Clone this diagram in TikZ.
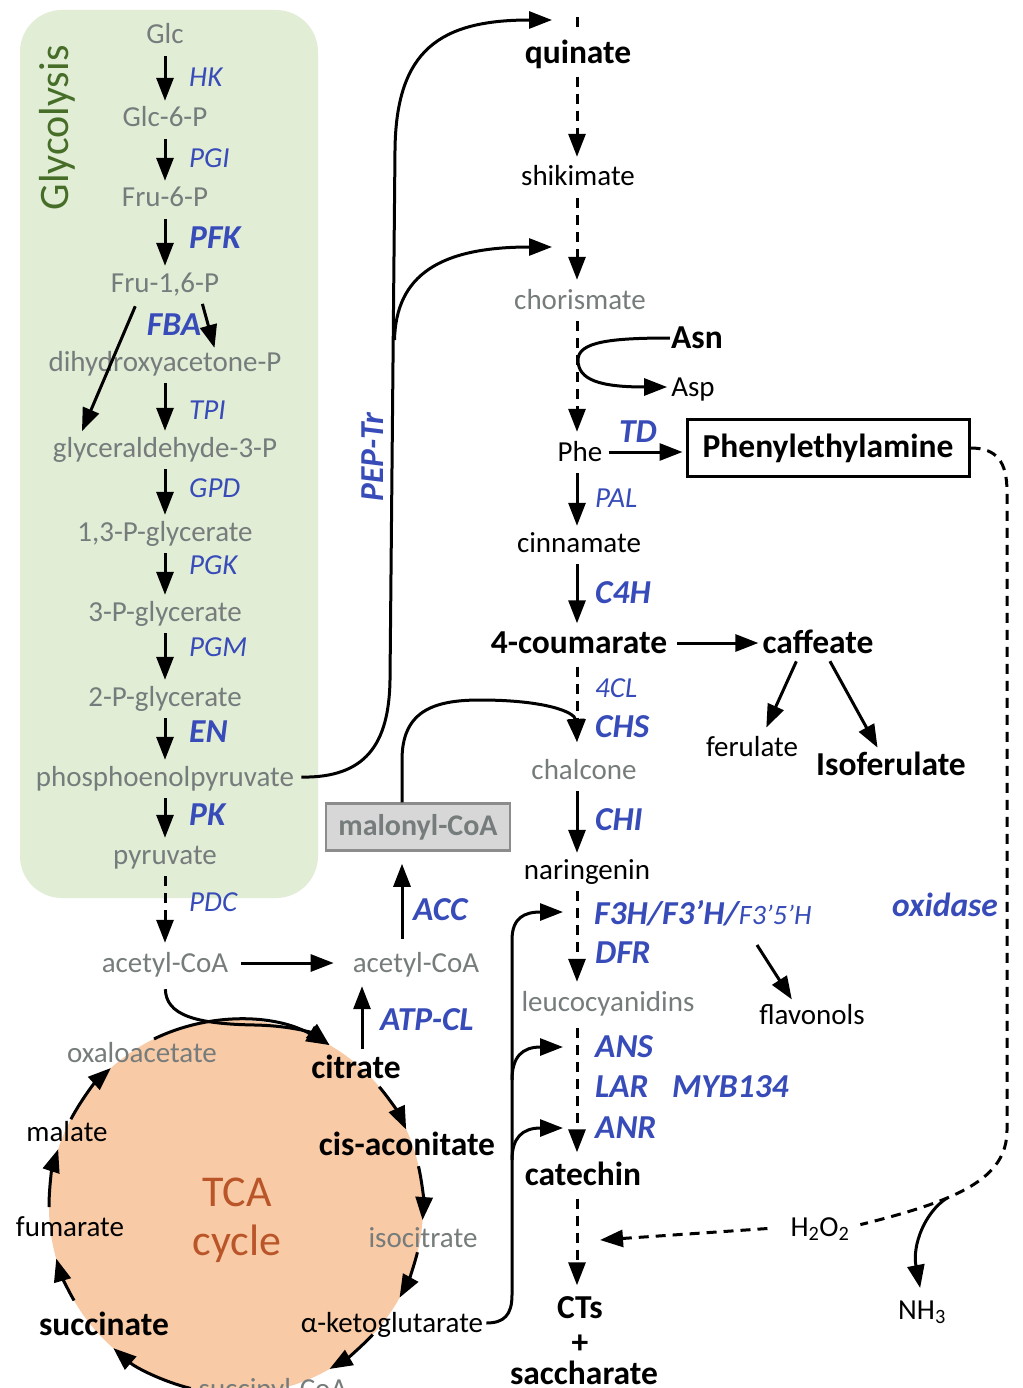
\documentclass[tikz,border=0pt]{standalone}
\usepackage{fontspec}
\setmainfont{Carlito}
\usetikzlibrary{arrows.meta,calc}
\definecolor{txtgray}{RGB}{118,124,124}
\definecolor{enzblue}{RGB}{55,75,185}
\definecolor{glyfill}{RGB}{226,237,214}
\definecolor{glytext}{RGB}{70,110,40}
\definecolor{tcafill}{RGB}{248,202,165}
\definecolor{tcatext}{RGB}{185,85,40}
\definecolor{malfill}{RGB}{215,215,215}
\definecolor{maldraw}{RGB}{140,140,140}
\tikzset{
  every node/.style={inner sep=1pt},
  nfont/.style={font=\fontsize{29}{34}\selectfont, text height=20pt, text depth=2pt},
  bfont/.style={font=\fontsize{33.5}{38}\selectfont\bfseries, text height=24pt, text depth=3pt},
  met/.style={nfont, text=black},
  metg/.style={nfont, text=txtgray},
  metb/.style={bfont, text=black},
  enz/.style={font=\fontsize{29}{34}\selectfont\itshape, text=enzblue, anchor=west},
  enzb/.style={font=\fontsize{33.5}{38}\selectfont\bfseries\itshape, text=enzblue, anchor=west},
  tipped/.style={-{Triangle[length=23pt,width=17pt]}},
  ln/.style={line width=3pt, draw=black},
  arr/.style={ln, tipped, shorten <=9pt, shorten >=5pt},
  darr/.style={arr, dash pattern=on 10pt off 7pt, shorten >=8pt},
  dln/.style={ln, dash pattern=on 10pt off 7pt},
}
\begin{document}
\begin{tikzpicture}[x=1pt,y=-1pt]
\clip (0,0) rectangle (1022,1388);
\fill[white] (0,0) rectangle (1022,1388);

% ---------- backgrounds ----------
\node[fill=glyfill, rounded corners=42pt, minimum width=298pt, minimum height=888pt, inner sep=0pt] (glybox) at (169,454) {};
\node[font=\fontsize{42}{48}\selectfont, text=glytext, rotate=90] (glylab) at (57,128) {Glycolysis};
\node[circle, fill=tcafill, minimum size=374pt, inner sep=0pt] (tca) at (236,1207) {};
\node[font=\fontsize{44}{49}\selectfont, text=tcatext, align=center] (tcalab) at (237,1220) {TCA\\cycle};

% ---------- glycolysis ----------
\node[metg] (glc)  at (165,35)  {Glc};
\node[metg] (g6p)  at (165,118) {Glc-6-P};
\node[metg] (f6p)  at (165,198) {Fru-6-P};
\node[metg] (fbp)  at (165,283) {Fru-1,6-P};
\node[metg] (dhap) at (165,362) {dihydroxyacetone-P};
\node[metg] (gap)  at (165,448) {glyceraldehyde-3-P};
\node[metg] (bpg)  at (165,532) {1,3-P-glycerate};
\node[metg] (pgt)  at (165,612) {3-P-glycerate};
\node[metg] (pgd)  at (165,697) {2-P-glycerate};
\node[metg] (pep)  at (165,777) {phosphoenolpyruvate};
\node[metg] (pyr)  at (165,855) {pyruvate};
\node[metg] (acoaL) at (165,963) {acetyl-CoA};

\node[enz]  (eHK)  at (188,77)  {HK};
\node[enz]  (ePGI) at (188,158) {PGI};
\node[enzb] (ePFK) at (188,238) {PFK};
\node[enzb, anchor=center] (eFBA) at (174,325) {FBA};
\node[enz]  (eTPI) at (188,410) {TPI};
\node[enz]  (eGPD) at (188,488) {GPD};
\node[enz]  (ePGK) at (188,565) {PGK};
\node[enz]  (ePGM) at (188,647) {PGM};
\node[enzb] (eEN)  at (188,732) {EN};
\node[enzb] (ePK)  at (188,815) {PK};
\node[enz]  (ePDC) at (188,902) {PDC};

% ---------- main column ----------
\coordinate (colx) at (577,0);
\coordinate (qtop) at (577,17);
\coordinate (qtip) at (552,20);
\coordinate (chtip) at (552,247);
\coordinate (pepbr) at (394.5,340);
\coordinate (chstip) at (577,742);
\coordinate (f3htip) at (563,912);
\coordinate (anstip) at (563,1047);
\coordinate (anrtip) at (563,1128);
\coordinate (brans) at (512,1080);
\coordinate (branr) at (512,1160);
\coordinate (cttip) at (600,1240);
\coordinate (flstart) at (757,945);
\coordinate (nhsplit) at (947,1198);

\node[metb] (quinate) at (578,53) {quinate};
\node[met]  (shik)    at (578,177) {shikimate};
\node[metg] (chor)    at (580,300) {chorismate};
\node[metb] (asn)     at (697,338) {Asn};
\node[met]  (asp)     at (693,387) {Asp};
\node[met]  (phe)     at (580,452) {Phe};
\node[draw, line width=3pt, font=\fontsize{33.5}{38}\selectfont\bfseries, minimum width=282pt, minimum height=57pt] (pea) at (828,448) {Phenylethylamine};
\node[met]  (cinn)    at (579,543) {cinnamate};
\node[metb] (coum)    at (579,643) {4-coumarate};
\node[metb] (caff)    at (818,643) {caffeate};
\node[met]  (ferul)   at (752,747) {ferulate};
\node[metb] (isof)    at (891,765) {Isoferulate};
\node[metg] (chal)    at (584,770) {chalcone};
\node[met]  (narin)   at (587,870) {naringenin};
\node[metg] (leuco)   at (608,1002) {leucocyanidins};
\node[met]  (flav)    at (812,1015) {flavonols};
\node[metb] (catechin) at (583,1175) {catechin};
\node[metb] (cts)     at (580,1308) {CTs};
\node[metb] (plus)    at (580,1343) {+};
\node[metb, text depth=0pt] (sacch) at (584,1372) {saccharate};
\node[met]  (h2o2)    at (820,1227) {H\textsubscript{2}O\textsubscript{2}};
\node[met]  (nh3)     at (922,1310) {NH\textsubscript{3}};

\node[enzb, anchor=center] (eTD) at (638,432) {TD};
\node[enz]  (ePAL) at (594,498) {PAL};
\node[enzb] (eC4H) at (594,593) {C4H};
\node[enz]  (e4CL) at (594,688) {4CL};
\node[enzb] (eCHS) at (594,727) {CHS};
\node[enzb] (eCHI) at (594,820) {CHI};
\node[enzb] (eF3H) at (593,913) {F3H/F3’H/{\mdseries\fontsize{28}{32}\selectfont F3’5’H}};
\node[enzb] (eDFR) at (594,953) {DFR};
\node[enzb] (eANS) at (594,1047) {ANS};
\node[enzb] (eLAR) at (594,1087) {LAR};
\node[enzb] (eMYB) at (671,1087) {MYB134};
\node[enzb] (eANR) at (594,1128) {ANR};
\node[enzb, anchor=center, rotate=90] (ePEP) at (373,457) {PEP-Tr};
\node[enzb, anchor=center] (eOX) at (945,905) {oxidase};

% ---------- malonyl / acetyl ----------
\node[draw=maldraw, fill=malfill, line width=2.5pt, text=txtgray, font=\fontsize{30}{34}\selectfont\bfseries, minimum width=184pt, minimum height=47pt] (malonyl) at (418,827) {malonyl-CoA};
\node[metg] (acoaR) at (416,963) {acetyl-CoA};
\node[enzb] (eACC) at (412,910) {ACC};
\node[enzb] (eATP) at (379,1020) {ATP-CL};

% ---------- TCA labels ----------
\node[metg] (oxalo)   at (142,1053) {oxaloacetate};
\node[metb] (citrate) at (356,1068) {citrate};
\node[met]  (malate)  at (67,1132)  {malate};
\node[metb] (cisacon) at (407,1145) {cis-aconitate};
\node[met]  (fumarate) at (70,1227) {fumarate};
\node[metg] (isocit)  at (423,1238) {isocitrate};
\node[metb] (succinate) at (104,1325) {succinate};
\node[met]  (akg)     at (392,1323) {α-ketoglutarate};
\node[metg] (succcoa) at (273,1389) {succinyl-CoA};

% ---------- glycolysis connectors ----------
\draw[arr] (glc) -- (g6p);
\draw[arr] (g6p) -- (f6p);
\draw[arr] (f6p) -- (fbp);
\draw[arr, shorten <=12pt] ([xshift=-25pt]fbp.south) -- ([xshift=-85pt]gap.north);
\draw[arr, shorten >=2pt] ([xshift=35pt]fbp.south) -- ([xshift=50pt]dhap.north);
\draw[arr] (dhap) -- (gap);
\draw[arr] (gap) -- (bpg);
\draw[arr] (bpg) -- (pgt);
\draw[arr] (pgt) -- (pgd);
\draw[arr] (pgd) -- (pep);
\draw[arr] (pep) -- (pyr);
\draw[darr] (pyr) -- (acoaL);

% ---------- PEP-Tr ----------
\draw[ln, tipped, shorten <=6pt] (pep.east) .. controls (365,778) and (389,745) .. (390,680) -- (395,150) .. controls (396,50) and (440,20) .. (qtip);
\draw[ln, tipped] (pepbr) .. controls (396,275) and (440,247) .. (chtip);

% ---------- main column connectors ----------
\draw[dln, shorten >=9pt] (qtop) -- (quinate.north -| colx);
\draw[darr] (quinate.south -| colx) -- (shik.north -| colx);
\draw[darr] (shik.south -| colx) -- (chor.north -| colx);
\draw[darr] (chor.south -| colx) -- (phe.north -| colx);
\draw[ln, tipped, shorten >=3pt] (asn.west) .. controls (610,338) and (578,342) .. (578,360) .. controls (578,380) and (600,387) .. (asp.west);
\draw[arr, shorten <=5pt, shorten >=3pt] (phe.east) -- (phe.east -| pea.west);
\draw[arr] (phe.south -| colx) -- (cinn.north -| colx);
\draw[arr] (cinn.south -| colx) -- (coum.north -| colx);
\draw[darr, shorten >=0pt] (coum.south -| colx) -- (chstip);
\draw[arr, shorten >=3pt] (coum) -- (caff);
\draw[arr, shorten <=4pt, shorten >=8pt] ([xshift=-20pt]caff.south) -- ([xshift=11pt]ferul.north);
\draw[arr, shorten <=4pt, shorten >=3pt] ([xshift=10pt]caff.south) -- ([xshift=-12pt]isof.north);
\draw[ln, tipped] ([xshift=-16pt]malonyl.north) -- (402,760) .. controls (402,712) and (432,700) .. (480,700) .. controls (545,700) and (575,712) .. (chstip);
\draw[arr] (chal.south -| colx) -- (narin.north -| colx);
\draw[darr] (narin.south -| colx) -- (leuco.north -| colx);
\draw[darr, shorten <=14pt] (leuco.south -| colx) -- (catechin.north -| colx);
\draw[darr] (catechin.south -| colx) -- (cts.north -| colx);
\draw[arr, shorten <=0pt, shorten >=4pt] (flstart) -- ([xshift=-18pt]flav.north);

% alpha-ketoglutarate bracket
\draw[ln, tipped, shorten <=2pt] (akg.east) .. controls (504,1323) and (512,1315) .. (512,1295) -- (512,940) .. controls (512,918) and (524,912) .. (f3htip);
\draw[ln, tipped] (brans) .. controls (512,1057) and (522,1047) .. (anstip);
\draw[ln, tipped] (branr) .. controls (512,1138) and (522,1128) .. (anrtip);

% oxidase route
\draw[dln, shorten >=10pt] (pea.east) .. controls (997,448) and (1007,462) .. (1007,492) -- (1007,1130) .. controls (1007,1178) and (960,1200) .. (h2o2.east);
\draw[ln, tipped, shorten >=10pt] (nhsplit) .. controls (925,1212) and (912,1245) .. (nh3.north);
\draw[darr, shorten <=22pt, shorten >=0pt] (h2o2.west) -- (cttip);

% ---------- acetyl-CoA / TCA ----------
\draw[arr, shorten <=12pt, shorten >=18pt] (acoaL) -- (acoaR);
\draw[arr, shorten <=12pt, shorten >=12pt] ([xshift=-14pt]acoaR.north) -- ([xshift=-16pt]malonyl.south);
\draw[arr, shorten <=4pt, shorten >=11pt] ([xshift=6pt]citrate.north) -- ([xshift=-54pt]acoaR.south);
\coordinate (cittip) at ($(tca.center)+(-60:187)$);
\draw[ln, tipped, shorten <=14pt] (acoaL.south) .. controls (166,1015) and (195,1024) .. (255,1025) .. controls (300,1026) and (318,1036) .. (cittip);

\draw[ln, tipped] ($(tca.center)+(-116:187)$) arc[start angle=-116, end angle=-60, radius=187];
\draw[ln, tipped] ($(tca.center)+(-40:187)$) arc[start angle=-40, end angle=-24.5, radius=187];
\draw[ln, tipped] ($(tca.center)+(-12.6:187)$) arc[start angle=-12.6, end angle=4, radius=187];
\draw[ln, tipped] ($(tca.center)+(14:187)$) arc[start angle=14, end angle=29, radius=187];
\draw[ln, tipped] ($(tca.center)+(43:187)$) arc[start angle=43, end angle=60, radius=187];
\draw[ln, tipped] ($(tca.center)+(104:187)$) arc[start angle=104, end angle=131, radius=187];
\draw[ln, tipped] ($(tca.center)+(150:187)$) arc[start angle=150, end angle=164, radius=187];
\draw[ln, tipped] ($(tca.center)+(180:187)$) arc[start angle=180, end angle=198, radius=187];
\draw[ln, tipped] ($(tca.center)+(-152:187)$) arc[start angle=-152, end angle=-132, radius=187];
\end{tikzpicture}
\end{document}
